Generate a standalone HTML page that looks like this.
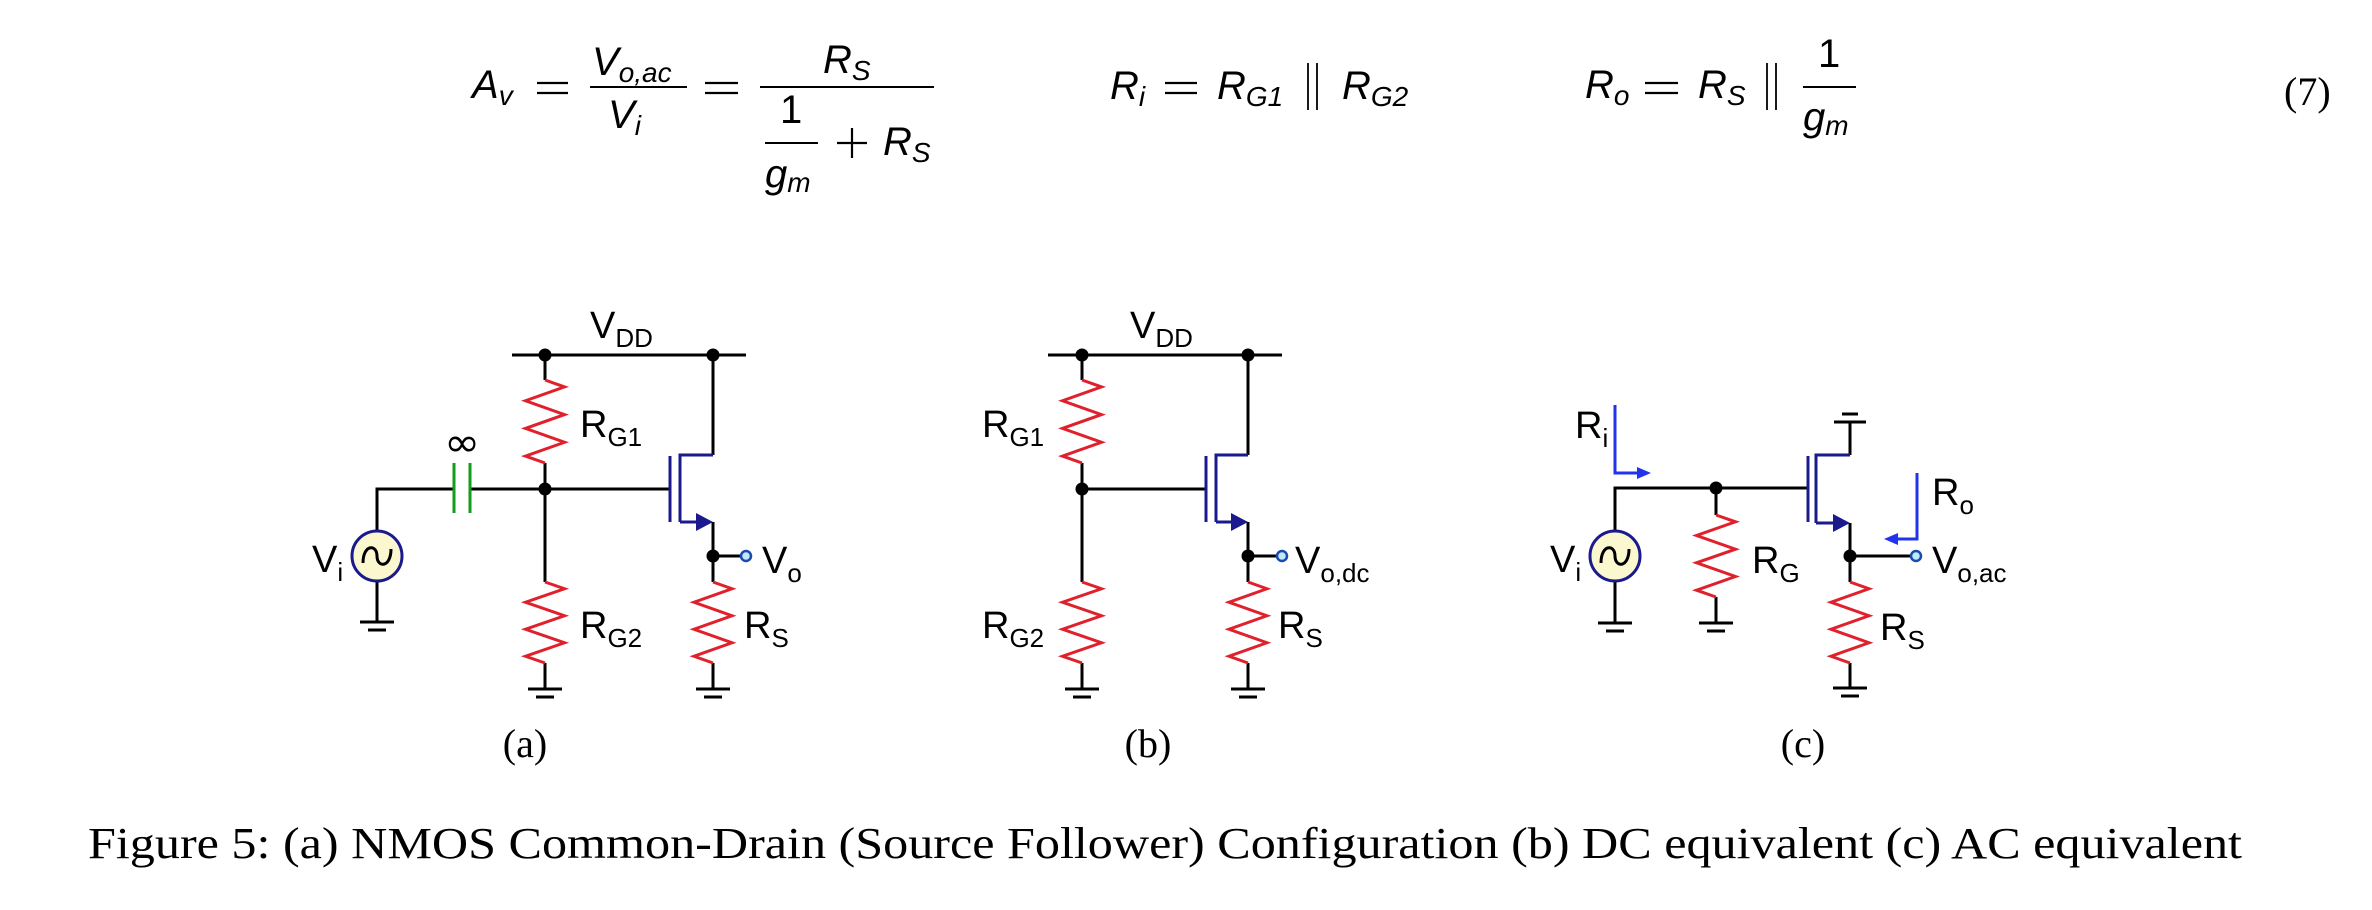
<!DOCTYPE html>
<html><head><meta charset="utf-8"><style>
html,body{margin:0;padding:0;background:#fff;}
svg{display:block;}
.w{stroke:#000;stroke-width:3;fill:none;}
.r{stroke:#e0202a;stroke-width:3;fill:none;stroke-linejoin:miter;}
.b{stroke:#1a1a8c;stroke-width:3;fill:none;}
.l{font-family:"Liberation Sans",sans-serif;font-size:38px;fill:#000;}
.m{font-family:"Liberation Sans",sans-serif;font-style:italic;font-size:40px;fill:#000;}
.n{font-family:"Liberation Sans",sans-serif;font-size:40px;fill:#000;}
.s{font-family:"Liberation Serif",serif;font-size:40px;fill:#000;}
.e{stroke:#000;stroke-width:2.2;fill:none;}
</style></head><body>
<svg width="2372" height="910" viewBox="0 0 2372 910" xmlns="http://www.w3.org/2000/svg">
<!-- Equations -->
<text class="m" x="472" y="98">A<tspan font-size="28" dy="7">v</tspan></text>
<path class="e" d="M537 83H568 M537 93H568"/>
<line x1="590" y1="87" x2="687" y2="87" stroke="#000" stroke-width="2"/>
<text class="m" x="592" y="75">V<tspan font-size="28" dy="7">o,ac</tspan></text>
<text class="m" x="608" y="128">V<tspan font-size="28" dy="7">i</tspan></text>
<path class="e" d="M705 83H738 M705 93H738"/>
<line x1="760" y1="87" x2="934" y2="87" stroke="#000" stroke-width="2"/>
<text class="m" x="823" y="73">R<tspan font-size="28" dy="7">S</tspan></text>
<text class="n" x="780" y="123">1</text>
<line x1="765" y1="143" x2="818" y2="143" stroke="#000" stroke-width="2"/>
<text class="m" x="765" y="187">g<tspan font-size="28" dy="5">m</tspan></text>
<path class="e" d="M837 143H867 M852 128V158"/>
<text class="m" x="883" y="155">R<tspan font-size="28" dy="7">S</tspan></text>

<text class="m" x="1110" y="99">R<tspan font-size="28" dy="7">i</tspan></text>
<path class="e" d="M1165 83H1197 M1165 93H1197"/>
<text class="m" x="1217" y="99">R<tspan font-size="28" dy="7">G1</tspan></text>
<line x1="1308" y1="63" x2="1308" y2="110" stroke="#000" stroke-width="1.8"/>
<line x1="1317" y1="63" x2="1317" y2="110" stroke="#000" stroke-width="1.8"/>
<text class="m" x="1342" y="99">R<tspan font-size="28" dy="7">G2</tspan></text>

<text class="m" x="1585" y="98">R<tspan font-size="28" dy="7">o</tspan></text>
<path class="e" d="M1645 83H1678 M1645 93H1678"/>
<text class="m" x="1698" y="98">R<tspan font-size="28" dy="7">S</tspan></text>
<line x1="1767" y1="63" x2="1767" y2="110" stroke="#000" stroke-width="1.8"/>
<line x1="1776" y1="63" x2="1776" y2="110" stroke="#000" stroke-width="1.8"/>
<line x1="1803" y1="87" x2="1856" y2="87" stroke="#000" stroke-width="2"/>
<text class="n" x="1818" y="67">1</text>
<text class="m" x="1803" y="130">g<tspan font-size="28" dy="5">m</tspan></text>
<text class="s" x="2284" y="105">(7)</text>

<!-- ===== (a) ===== -->
<path class="w" d="M512 355H746 M545 355V380 M545 463V582 M545 663V689 M528 689H562 M536 697H554
M713 355V455 M713 522V582 M713 663V689 M696 689H730 M704 697H722
M377 531V489H454 M470 489H670 M713 556H741
M377 581V622 M360 622H394 M368 630H386"/>
<path class="r" d="M545 380L564.5 386.9L525.5 400.75L564.5 414.6L525.5 428.4L564.5 442.25L525.5 456.1L545 463"/>
<path class="r" d="M545 582L564.5 588.75L525.5 602.25L564.5 615.75L525.5 629.25L564.5 642.75L525.5 656.25L545 663"/>
<path class="r" d="M713 582L732 588.75L694 602.25L732 615.75L694 629.25L732 642.75L694 656.25L713 663"/>
<path d="M454 463V513 M470 463V513" stroke="#1a9a1a" stroke-width="3" fill="none"/>
<path class="b" d="M670 456V522 M680 522V455H713 M680 522H698"/>
<polygon points="713,522 696,513 696,531" fill="#1a1a8c"/>
<circle cx="377" cy="556" r="25" fill="#fbf8d0" stroke="#1a1a8c" stroke-width="3"/>
<path d="M363 563C363 544 377 544 377 556C377 568 391 568 391 549" stroke="#000" stroke-width="3" fill="none"/>
<circle cx="545" cy="355" r="6.5"/><circle cx="713" cy="355" r="6.5"/>
<circle cx="545" cy="489" r="6.5"/><circle cx="713" cy="556" r="6.5"/>
<circle cx="746" cy="556" r="5" fill="#bfe8f8" stroke="#1a4ab0" stroke-width="2.5"/>
<text class="l" x="590" y="338">V<tspan font-size="26" dy="9">DD</tspan></text>
<text class="l" x="580" y="437">R<tspan font-size="26" dy="9">G1</tspan></text>
<text class="l" x="580" y="638">R<tspan font-size="26" dy="9">G2</tspan></text>
<text class="l" x="744" y="638">R<tspan font-size="26" dy="9">S</tspan></text>
<text class="l" x="762" y="573">V<tspan font-size="26" dy="9">o</tspan></text>
<text class="l" x="312" y="572">V<tspan font-size="26" dy="9">i</tspan></text>
<text x="444" y="456" font-family="DejaVu Sans,sans-serif" font-size="40" textLength="36" lengthAdjust="spacingAndGlyphs">∞</text>
<text class="s" x="525" y="757" text-anchor="middle">(a)</text>

<!-- ===== (b) ===== -->
<path class="w" d="M1048 355H1282 M1082 355V380 M1082 463V582 M1082 663V689 M1065 689H1099 M1073 697H1091
M1248 355V455 M1248 522V582 M1248 663V689 M1231 689H1265 M1239 697H1257
M1082 489H1206 M1248 556H1277"/>
<path class="r" d="M1082 380L1101.5 386.9L1062.5 400.75L1101.5 414.6L1062.5 428.4L1101.5 442.25L1062.5 456.1L1082 463"/>
<path class="r" d="M1082 582L1101.5 588.75L1062.5 602.25L1101.5 615.75L1062.5 629.25L1101.5 642.75L1062.5 656.25L1082 663"/>
<path class="r" d="M1248 582L1267 588.75L1229 602.25L1267 615.75L1229 629.25L1267 642.75L1229 656.25L1248 663"/>
<path class="b" d="M1206 456V522 M1216 522V455H1248 M1216 522H1233"/>
<polygon points="1248,522 1231,513 1231,531" fill="#1a1a8c"/>
<circle cx="1082" cy="355" r="6.5"/><circle cx="1248" cy="355" r="6.5"/>
<circle cx="1082" cy="489" r="6.5"/><circle cx="1248" cy="556" r="6.5"/>
<circle cx="1282" cy="556" r="5" fill="#bfe8f8" stroke="#1a4ab0" stroke-width="2.5"/>
<text class="l" x="1130" y="338">V<tspan font-size="26" dy="9">DD</tspan></text>
<text class="l" x="982" y="437">R<tspan font-size="26" dy="9">G1</tspan></text>
<text class="l" x="982" y="638">R<tspan font-size="26" dy="9">G2</tspan></text>
<text class="l" x="1278" y="638">R<tspan font-size="26" dy="9">S</tspan></text>
<text class="l" x="1295" y="573">V<tspan font-size="26" dy="9">o,dc</tspan></text>
<text class="s" x="1148" y="757" text-anchor="middle">(b)</text>

<!-- ===== (c) ===== -->
<path class="w" d="M1615 531V488H1808 M1716 488V515 M1716 597V623 M1699 623H1733 M1707 631H1725
M1615 581V623 M1598 623H1632 M1606 631H1624
M1850 455V422 M1834 422H1866 M1842 414H1858
M1850 523V582 M1850 663V688 M1833 688H1867 M1841 696H1859 M1850 556H1911"/>
<path class="r" d="M1716 515L1735.5 521.8L1696.5 535.5L1735.5 549.2L1696.5 562.8L1735.5 576.5L1696.5 590.2L1716 597"/>
<path class="r" d="M1850 582L1869 588.75L1831 602.25L1869 615.75L1831 629.25L1869 642.75L1831 656.25L1850 663"/>
<path class="b" d="M1808 456V522 M1816 523V455H1850 M1816 523H1835"/>
<polygon points="1850,523 1833,514 1833,532" fill="#1a1a8c"/>
<circle cx="1615" cy="556" r="25" fill="#fbf8d0" stroke="#1a1a8c" stroke-width="3"/>
<path d="M1601 563C1601 544 1615 544 1615 556C1615 568 1629 568 1629 549" stroke="#000" stroke-width="3" fill="none"/>
<circle cx="1716" cy="488" r="6.5"/><circle cx="1850" cy="556" r="6.5"/>
<circle cx="1916" cy="556" r="5" fill="#bfe8f8" stroke="#1a4ab0" stroke-width="2.5"/>
<path d="M1615 405V473H1640 M1917 473V539H1895" stroke="#2233ee" stroke-width="3" fill="none"/>
<polygon points="1651,473 1637,467 1637,479" fill="#2233ee"/>
<polygon points="1884,539 1898,533 1898,545" fill="#2233ee"/>
<text class="l" x="1575" y="438">R<tspan font-size="26" dy="9">i</tspan></text>
<text class="l" x="1932" y="505">R<tspan font-size="26" dy="9">o</tspan></text>
<text class="l" x="1752" y="573">R<tspan font-size="26" dy="9">G</tspan></text>
<text class="l" x="1880" y="640">R<tspan font-size="26" dy="9">S</tspan></text>
<text class="l" x="1932" y="573">V<tspan font-size="26" dy="9">o,ac</tspan></text>
<text class="l" x="1550" y="572">V<tspan font-size="26" dy="9">i</tspan></text>
<text class="s" x="1803" y="757" text-anchor="middle">(c)</text>

<!-- caption -->
<text x="88" y="858" font-family="Liberation Serif,serif" font-size="44" textLength="2154" lengthAdjust="spacingAndGlyphs">Figure 5: (a) NMOS Common-Drain (Source Follower) Configuration (b) DC equivalent (c) AC equivalent</text>
</svg>
</body></html>
